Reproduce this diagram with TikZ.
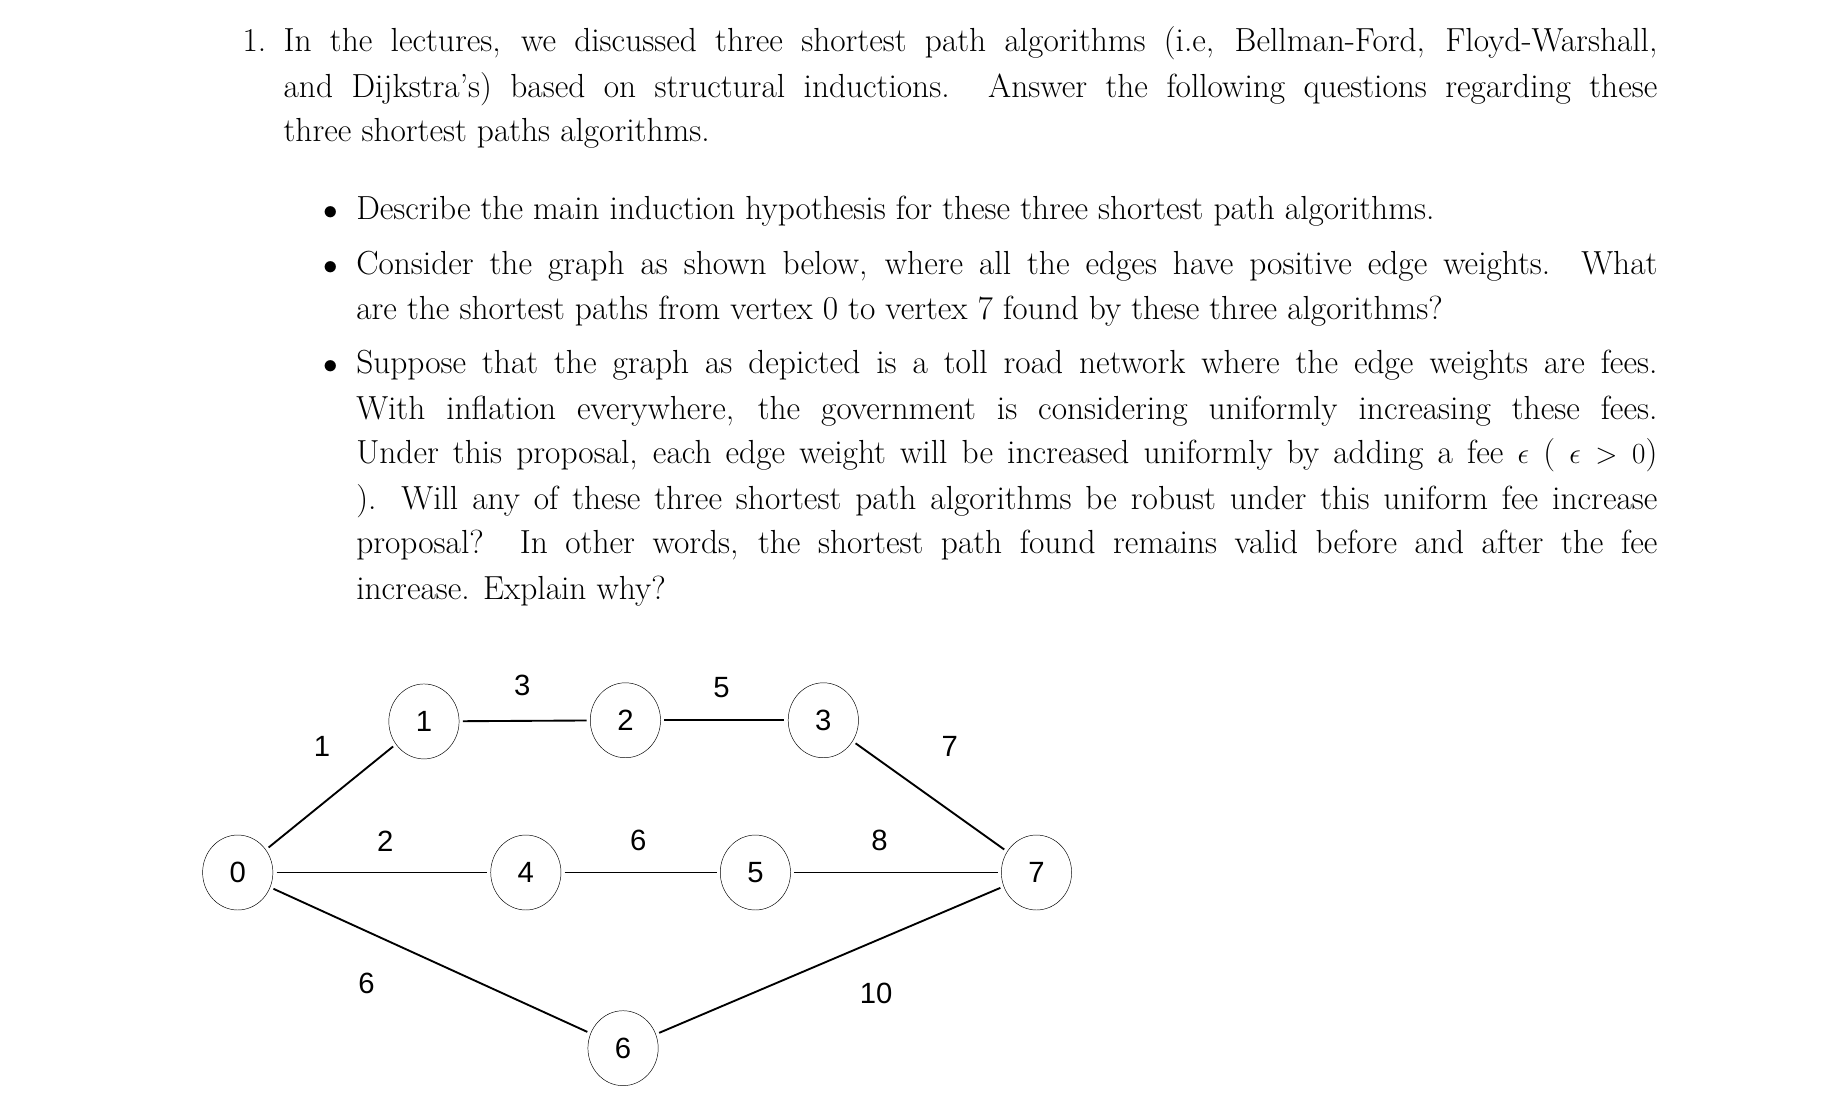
\documentclass[tikz,border=0pt]{standalone}
\usepackage{fontspec}
\newfontfamily\arialf{Liberation Sans}
\begin{document}
\begin{tikzpicture}[x=1pt,y=1pt,
  vtx/.style={draw,ellipse,minimum width=60pt,minimum height=64pt,inner sep=0pt,font=\arialf\fontsize{25}{25}\selectfont},
  edge/.style={line width=1.6pt,shorten >=3pt,shorten <=3pt},
  wl/.style={font=\arialf\fontsize{25}{25}\selectfont},
  ln/.style={anchor=base west,inner sep=0pt,font=\fontsize{28.5}{38.5}\selectfont}]
\useasboundingbox (0,0) rectangle (1560,-953);
\usetikzlibrary{shapes.geometric}
% text
\node[ln] (n1) at (207,-44) {1.};
\node[ln] (p1a) at (242,-44) {\hbox to 1173pt{In the lectures, we discussed three shortest path algorithms (i.e, Bellman-Ford, Floyd-Warshall,}};
\node[ln] (p1b) at (242,-83) {\hbox to 1173pt{and Dijkstra's) based on structural inductions. Answer the following questions regarding these}};
\node[ln] (p1c) at (242,-121) {three shortest paths algorithms.};
\node[ln] (b1) at (276,-187) {$\bullet$};
\node[ln] (b1a) at (304,-187) {Describe the main induction hypothesis for these three shortest path algorithms.};
\node[ln] (b2) at (276,-234) {$\bullet$};
\node[ln] (b2a) at (304,-234) {\hbox to 1111pt{Consider the graph as shown below, where all the edges have positive edge weights. What}};
\node[ln] (b2b) at (304,-273) {are the shortest paths from vertex 0 to vertex 7 found by these three algorithms?};
\node[ln] (b3) at (276,-319) {$\bullet$};
\node[ln] (b3a) at (304,-319) {\hbox to 1111pt{Suppose that the graph as depicted is a toll road network where the edge weights are fees.}};
\node[ln] (b3b) at (304,-358) {\hbox to 1111pt{With inflation everywhere, the government is considering uniformly increasing these fees.}};
\node[ln] (b3c) at (304,-396) {\hbox to 1111pt{Under this proposal, each edge weight will be increased uniformly by adding a fee $\epsilon$ ( $\epsilon>0$)}};
\node[ln] (b3d) at (304,-435) {\hbox to 1111pt{). Will any of these three shortest path algorithms be robust under this uniform fee increase}};
\node[ln] (b3e) at (304,-473) {\hbox to 1111pt{proposal? In other words, the shortest path found remains valid before and after the fee}};
\node[ln] (b3f) at (304,-512) {increase. Explain why?};
% graph
\node[vtx] (v0) at (203,-745) {0};
\node[vtx] (v1) at (362,-616) {1};
\node[vtx] (v2) at (534,-615) {2};
\node[vtx] (v3) at (703,-615) {3};
\node[vtx] (v4) at (449,-745) {4};
\node[vtx] (v5) at (645,-745) {5};
\node[vtx] (v7) at (885,-745) {7};
\node[vtx] (v6) at (532,-895) {6};
\draw[edge] (v0) -- (v1);
\draw[edge] (v1) -- (v2);
\draw[edge] (v2) -- (v3);
\draw[edge] (v3) -- (v7);
\draw[edge] (v0) -- (v4);
\draw[edge] (v4) -- (v5);
\draw[edge] (v5) -- (v7);
\draw[edge] (v0) -- (v6);
\draw[edge] (v6) -- (v7);
\node[wl] (w01) at (275,-637) {1};
\node[wl] (w12) at (446,-585) {3};
\node[wl] (w23) at (616,-587) {5};
\node[wl] (w37) at (811,-637) {7};
\node[wl] (w04) at (329,-718) {2};
\node[wl] (w45) at (545,-718) {6};
\node[wl] (w57) at (751,-718) {8};
\node[wl] (w06) at (313,-840) {6};
\node[wl] (w67) at (748,-848) {10};
\end{tikzpicture}
\end{document}
